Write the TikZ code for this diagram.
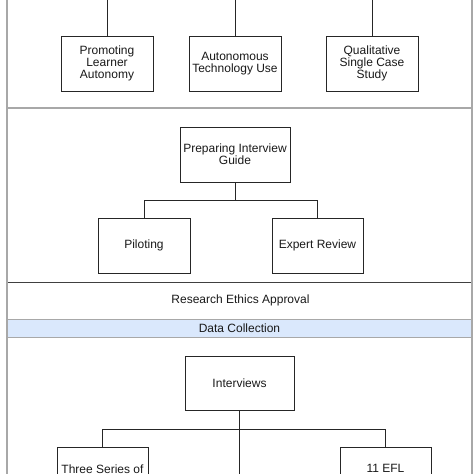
\documentclass[tikz,border=0pt]{standalone}
\usepackage{fontspec}
\setmainfont{Liberation Sans}
\definecolor{bandblue}{HTML}{DAE8FC}
\definecolor{framegray}{HTML}{A8A8A8}
\begin{document}
\begin{tikzpicture}[x=1pt,y=-1pt,
    box/.style={draw=black!85, line width=0.8pt, minimum width=92pt, minimum height=55pt,
      align=center, inner sep=2pt, text=black!90, font=\fontsize{12}{12.3}\selectfont},
    link/.style={draw=black!85, line width=0.8pt},
    frame/.style={draw=framegray, line width=1.6pt},
    rowtext/.style={text=black!90, font=\fontsize{12}{13}\selectfont}]
    \useasboundingbox (0,0) rectangle (474,474);
    \clip (0,0) rectangle (474,474);

    % sections
    \fill[bandblue] (7,319) rectangle (472,337.5);
    \draw[framegray, line width=1pt] (7,319) -- (472,319);
    \draw[framegray, line width=1pt] (7,337.5) -- (472,337.5);
    \draw[framegray, line width=1.2pt] (7,108) -- (472,108);
    \draw[black!75, line width=1pt] (7,282) -- (472,282);
    \draw[frame] (7,-5) -- (7,480);
    \draw[frame] (472,-5) -- (472,480);

    % top row
    \node[box] (prom) at (107,63.5) {Promoting\\Learner\\Autonomy};
    \node[box] (auto) at (235,63.5) {Autonomous\\Technology Use};
    \node[box] (qual) at (372,63.5) {Qualitative\\Single Case\\Study};
    \coordinate (promtop) at (107,-10);
    \coordinate (autotop) at (235,-10);
    \coordinate (qualtop) at (372,-10);
    \draw[link] (promtop) -- (prom.north);
    \draw[link] (autotop) -- (auto.north);
    \draw[link] (qualtop) -- (qual.north);

    % interview guide
    \node[box, minimum width=110pt] (guide) at (235,154.5) {Preparing Interview\\Guide};
    \node[box] (pilot) at (144,245.5) {Piloting};
    \node[box, minimum width=91pt] (expert) at (317.5,245.5) {Expert Review};
    \draw[link] (guide.south) -- ++(0,18) -| (pilot.north);
    \draw[link] (guide.south) -- ++(0,18) -| (expert.north);

    \node[rowtext] (ethics) at (240.5,300) {Research Ethics Approval};
    \node[rowtext] (collect) at (239.5,328.5) {Data Collection};

    % interviews
    \node[box, minimum width=109pt, minimum height=54pt] (interv) at (239.5,383) {Interviews};
    \node[box, minimum width=91pt, anchor=north] (series) at (102.5,447) {Three Series of\\\mbox{}};
    \node[box, minimum width=91pt, anchor=north] (efl) at (385.5,447) {11 EFL\\\mbox{}};
    \coordinate (intervend) at (239.5,490);
    \draw[link] (interv.south) -- ++(0,19) -| (series.north);
    \draw[link] (interv.south) -- ++(0,19) -| (efl.north);
    \draw[link] (interv.south) -- (intervend);
\end{tikzpicture}
\end{document}
